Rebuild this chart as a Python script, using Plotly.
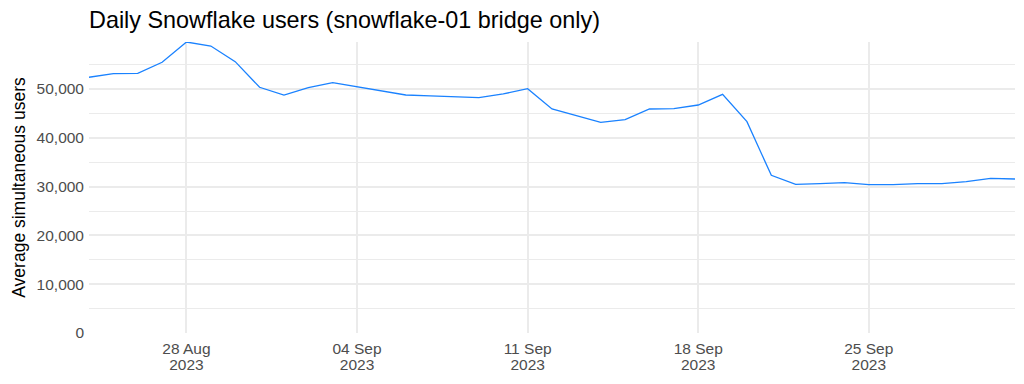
import plotly.graph_objects as go
import pandas as pd

dates = pd.date_range("2023-08-24", "2023-10-01", freq="D").strftime("%Y-%m-%d").tolist()
users = [52400, 53140, 53200, 55470, 59630, 58810, 55600, 50350, 48770, 50270,
         51300, 50480, 49650, 48770, 48570, 48430, 48220, 48980, 50070, 45900,
         44470, 43170, 43710, 45900, 45970, 46720, 48910, 43300, 32310, 30470,
         30600, 30810, 30400, 30400, 30600, 30600, 31010, 31700, 31560]

x_tickvals = ["2023-08-28", "2023-09-04", "2023-09-11", "2023-09-18", "2023-09-25"]
x_ticktext_day = ["28 Aug", "04 Sep", "11 Sep", "18 Sep", "25 Sep"]
x_ticktext_year = ["2023", "2023", "2023", "2023", "2023"]
y_tickvals = [0, 10000, 20000, 30000, 40000, 50000]
y_ticktext = ["0", "10,000", "20,000", "30,000", "40,000", "50,000"]

FONT = "Liberation Sans, Arial, sans-serif"
GRID = "#ebebeb"
TICK = "#4d4d4d"

fig = go.Figure()
fig.add_trace(go.Scatter(x=dates, y=users, mode="lines",
                         line=dict(color="#1a82ff", width=1.3), hoverinfo="x+y"))
# invisible helper trace carrying the second (year) tick row
fig.add_trace(go.Scatter(x=[dates[0], dates[-1]], y=[None, None], xaxis="x2",
                         mode="lines", showlegend=False, hoverinfo="skip"))

fig.update_layout(
    width=1024, height=384,
    margin=dict(l=89, r=9, t=42, b=51),
    paper_bgcolor="white", plot_bgcolor="white",
    showlegend=False,
    font=dict(family=FONT, color=TICK),
    title=dict(text="Daily Snowflake users (snowflake-01 bridge only)",
               x=89/1024, xanchor="left", xref="container",
               y=1 - 20/384, yanchor="middle", yref="container",
               font=dict(family=FONT, size=23.4, color="black")),
    xaxis=dict(range=[dates[0], dates[-1]], tickvals=x_tickvals, ticktext=x_ticktext_day,
               showgrid=True, gridcolor=GRID, gridwidth=1.5, zeroline=False,
               showline=False, ticks="", tickfont=dict(size=15.5, color=TICK),
               ticklabelstandoff=4),
    xaxis2=dict(range=[dates[0], dates[-1]], overlaying="x", side="bottom",
                tickvals=x_tickvals, ticktext=x_ticktext_year,
                showgrid=False, zeroline=False, showline=False, ticks="",
                tickfont=dict(size=15.5, color=TICK), ticklabelstandoff=20),
    yaxis=dict(range=[0, max(users)], tickvals=y_tickvals, ticktext=y_ticktext,
               showgrid=True, gridcolor=GRID, gridwidth=1.5, zeroline=False,
               showline=False, ticks="", tickfont=dict(size=15.5, color=TICK),
               ticklabelstandoff=4,
               minor=dict(dtick=5000, tick0=0, showgrid=True, gridcolor=GRID, gridwidth=0.8),
               title=dict(text="Average simultaneous users",
                          font=dict(family=FONT, size=17.5, color="black"), standoff=6)),
)

fig.write_html("out.html")
